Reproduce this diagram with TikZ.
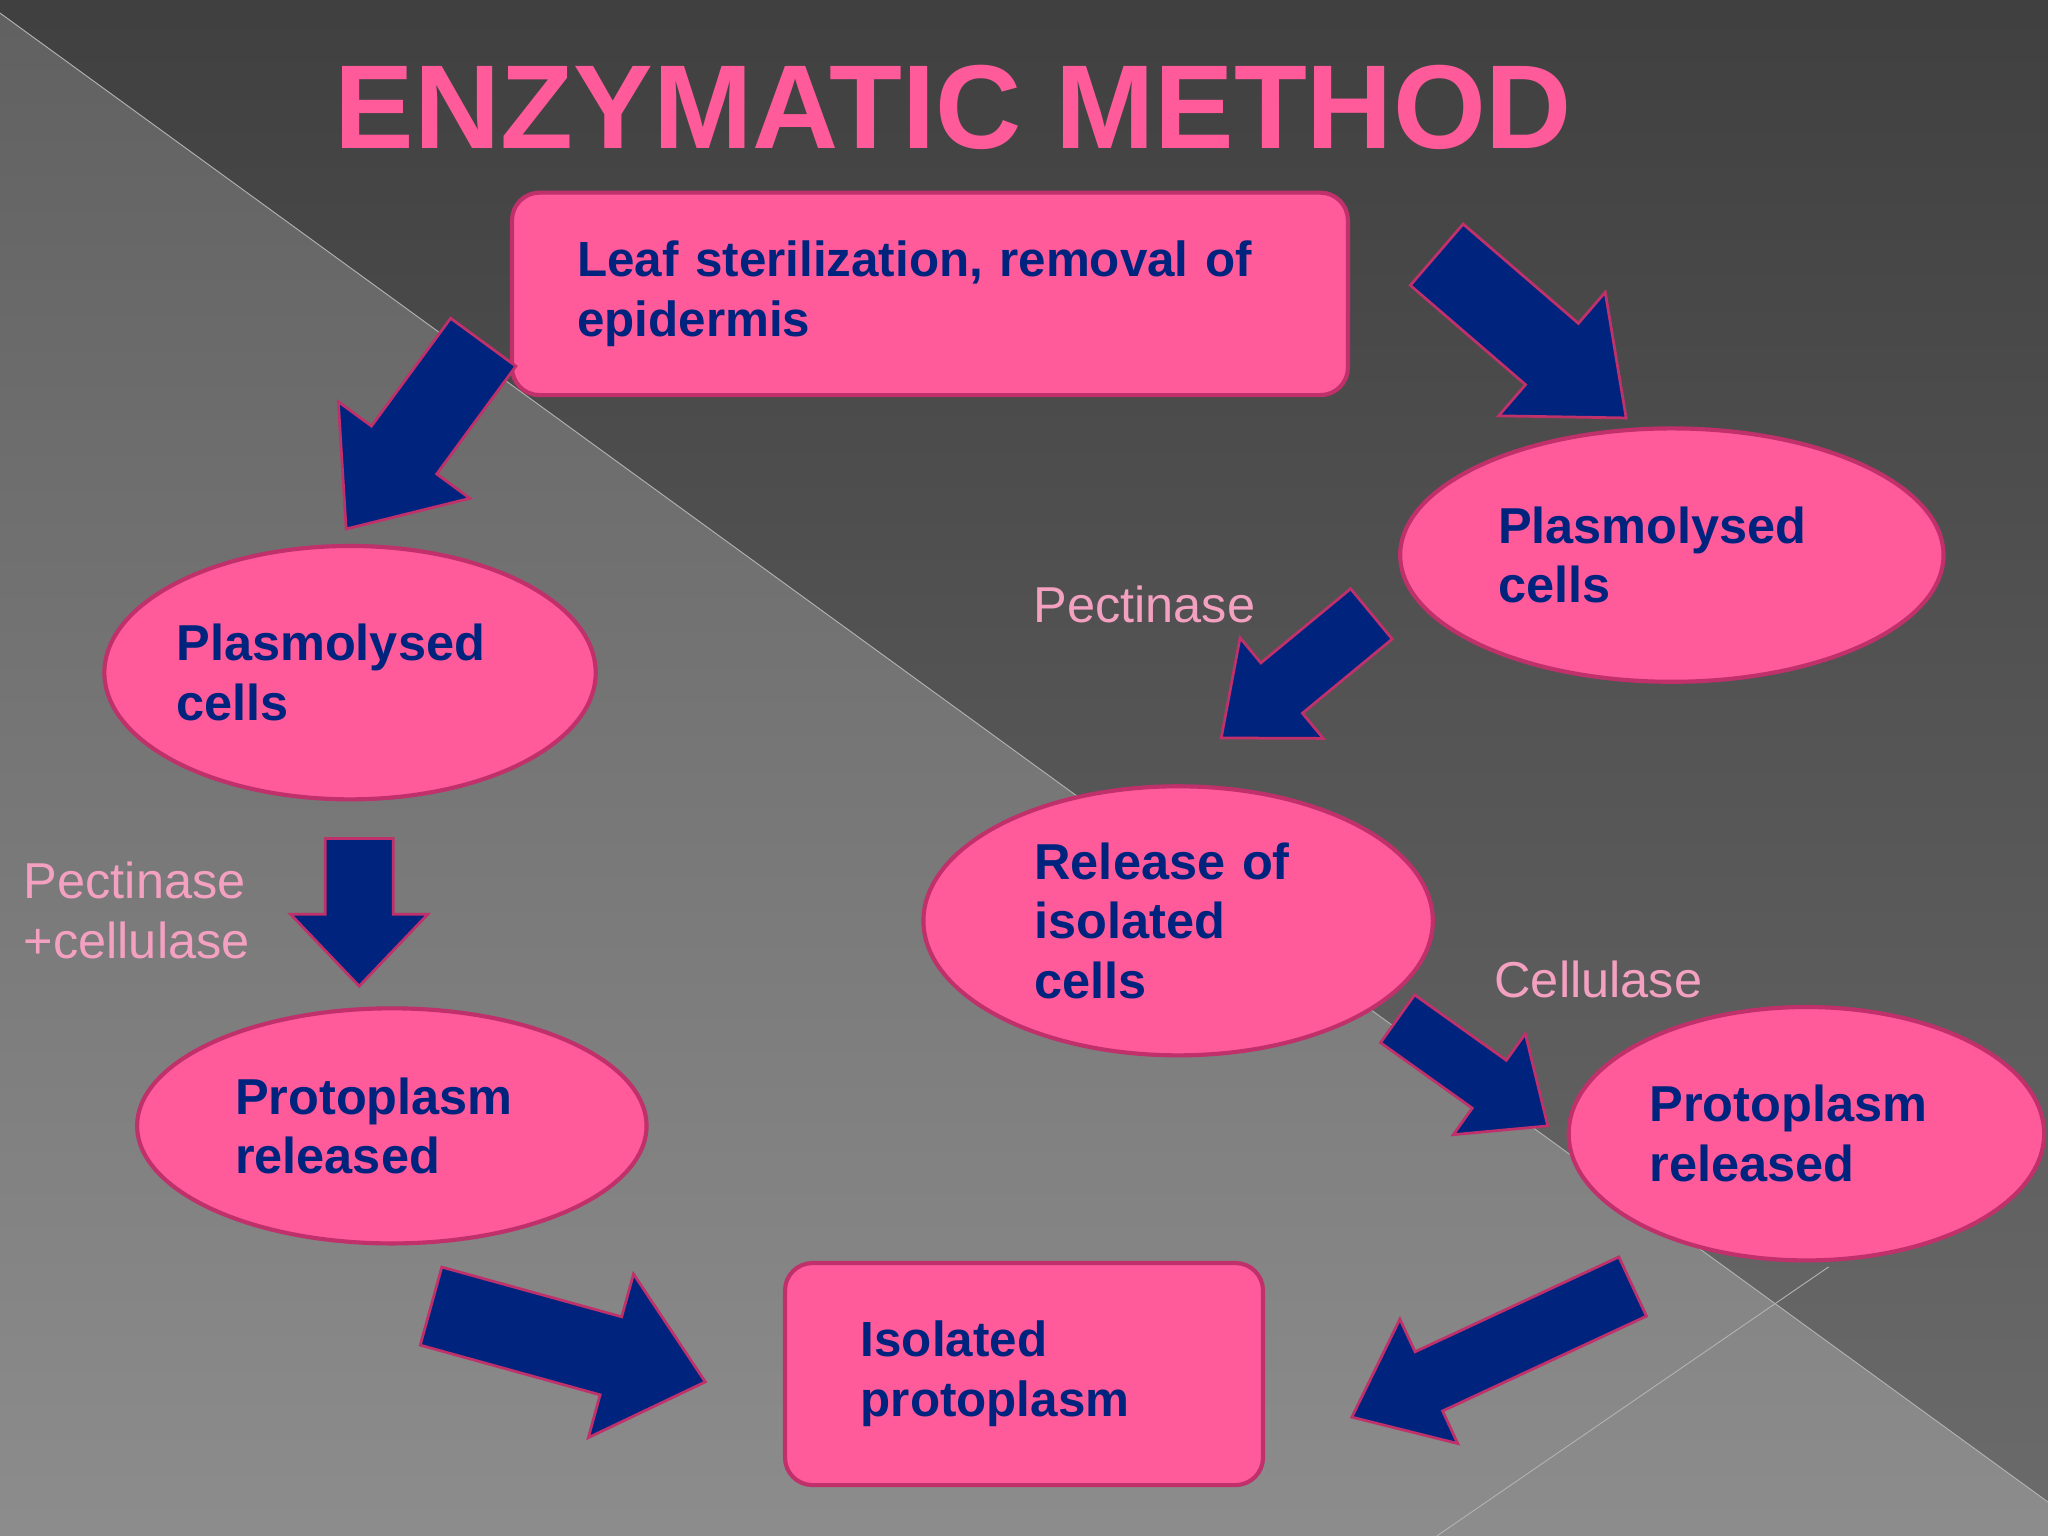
\documentclass[tikz,border=0pt]{standalone}
\usepackage{fontspec}
\setmainfont{Liberation Sans}
\usetikzlibrary{shapes.geometric,calc}
\definecolor{pk}{HTML}{FF5A9A}
\definecolor{bd}{HTML}{C0306A}
\definecolor{nv}{HTML}{00247D}
\definecolor{lb}{HTML}{F4A0C0}
\newcommand\barr[6]{% name, start, end, shaft half, head half, head length
 \coordinate (#1s) at #2; \coordinate (#1e) at #3;
 \coordinate (#1b) at ($(#1e)!#6!(#1s)$);
 \filldraw[fill=nv,draw=bd,line width=1.2pt] ($(#1s)!#4!90:(#1e)$) -- ($(#1b)!#4!90:(#1e)$) -- ($(#1b)!#5!90:(#1e)$) -- (#1e) -- ($(#1b)!#5!-90:(#1e)$) -- ($(#1b)!#4!-90:(#1e)$) -- ($(#1s)!#4!-90:(#1e)$) -- cycle;}
\begin{document}
\begin{tikzpicture}[x=0.02cm,y=-0.02cm,
  el/.style={ellipse,draw=bd,line width=1.8pt,fill=pk,text=nv,font=\fontsize{22}{26}\selectfont\bfseries,align=left,inner sep=0pt},
  bx/.style={rectangle,rounded corners=12pt,draw=bd,line width=1.8pt,fill=pk,text=nv,font=\fontsize{21.5}{26}\selectfont\bfseries,align=left,inner sep=0pt},
  lab/.style={text=lb,font=\fontsize{22}{26}\selectfont,align=left,anchor=west}]
\useasboundingbox (0,0) rectangle (1568,1176);
\shade[top color=black!75,bottom color=black!58] (0,0) rectangle (1568,1176);
\shade[top color=black!62,bottom color=black!45] (0,10) -- (1568,1150) -- (1568,1176) -- (0,1176) -- cycle;
\draw[white!70!black,line width=0.4pt] (0,10) -- (1568,1150);
\draw[white!70!black,line width=0.4pt] (1100,1176) -- (1400,970);
\node[text=pk,font=\fontsize{52}{60}\selectfont\bfseries] (title) at (730,82) {ENZYMATIC METHOD};
\node[bx,minimum width=640*0.02cm,minimum height=155*0.02cm,text width=540*0.02cm] (top) at (712,225) {Leaf sterilization, removal of\\epidermis};
\node[el,minimum width=376*0.02cm,minimum height=194*0.02cm,text width=266*0.02cm] (pl) at (268,515) {Plasmolysed\\cells};
\node[el,minimum width=416*0.02cm,minimum height=194*0.02cm,text width=266*0.02cm] (pr) at (1280,425) {Plasmolysed\\cells};
\node[el,minimum width=390*0.02cm,minimum height=206*0.02cm,text width=220*0.02cm] (rel) at (902,705) {Release of\\isolated\\cells};
\node[el,minimum width=390*0.02cm,minimum height=180*0.02cm,text width=240*0.02cm] (ppl) at (300,862) {Protoplasm\\released};
\node[el,minimum width=364*0.02cm,minimum height=194*0.02cm,text width=240*0.02cm] (ppr) at (1383,868) {Protoplasm\\released};
\node[bx,minimum width=366*0.02cm,minimum height=170*0.02cm,text width=250*0.02cm] (iso) at (784,1052) {Isolated\\protoplasm};
\barr{a1}{(370,262)}{(265,405)}{0.62cm}{1.25cm}{1.5cm}
\barr{a2}{(1100,195)}{(1245,320)}{0.62cm}{1.25cm}{1.5cm}
\barr{a3}{(1050,470)}{(935,565)}{0.5cm}{1.0cm}{1.2cm}
\barr{a4}{(275,642)}{(275,755)}{0.52cm}{1.05cm}{1.1cm}
\barr{a5}{(1070,780)}{(1185,862)}{0.45cm}{0.95cm}{1.1cm}
\barr{a6}{(330,1000)}{(540,1058)}{0.62cm}{1.3cm}{1.5cm}
\barr{a7}{(1250,985)}{(1035,1085)}{0.5cm}{1.05cm}{1.3cm}
\node[lab] (l1) at (785,463) {Pectinase};
\node[lab] (l2) at (12,697) {Pectinase\\+cellulase};
\node[lab] (l3) at (1138,750) {Cellulase};
\end{tikzpicture}
\end{document}
